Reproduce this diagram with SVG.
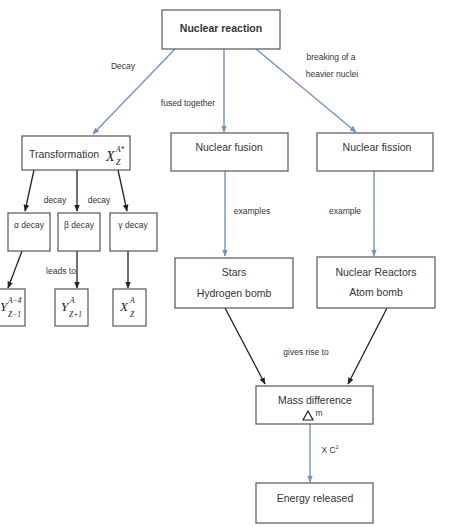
<svg xmlns="http://www.w3.org/2000/svg" width="474" height="527" viewBox="0 0 474 527">
<defs>
<marker id="ab" viewBox="0 0 10 10" refX="9" refY="5" markerWidth="7" markerHeight="7" orient="auto" markerUnits="userSpaceOnUse"><path d="M0,1 L10,5 L0,9 z" fill="#6f93c6"/></marker>
<marker id="ak" viewBox="0 0 10 10" refX="9" refY="5" markerWidth="7" markerHeight="7" orient="auto" markerUnits="userSpaceOnUse"><path d="M0,1 L10,5 L0,9 z" fill="#222"/></marker>
<style>
.box{fill:#fff;stroke:#555;stroke-width:1.2}
.t{font-family:"Liberation Sans",Arial,sans-serif;font-size:10.5px;fill:#333;text-anchor:middle}
.s{font-family:"Liberation Sans",Arial,sans-serif;font-size:8.5px;fill:#333;text-anchor:middle}
.m{font-family:"Liberation Serif","Times New Roman",serif;font-style:italic;fill:#222}
.blue{stroke:#6f93c6;stroke-width:1.4;fill:none;marker-end:url(#ab)}
.blk{stroke:#222;stroke-width:1.3;fill:none;marker-end:url(#ak)}
</style>
</defs>
<rect width="474" height="527" fill="#fff"/>
<g id="connectors">
<line class="blue" x1="175" y1="49" x2="93" y2="134"/>
<line class="blue" x1="224" y1="49" x2="224" y2="132"/>
<line class="blue" x1="256" y1="49" x2="356" y2="132"/>
<line class="blk" x1="34" y1="170" x2="25" y2="211"/>
<line class="blk" x1="77" y1="170" x2="77" y2="211"/>
<line class="blk" x1="118" y1="170" x2="127" y2="211"/>
<line class="blk" x1="22" y1="251" x2="8" y2="288"/>
<line class="blk" x1="77" y1="251" x2="77" y2="288"/>
<line class="blk" x1="128" y1="251" x2="128" y2="288"/>
<line class="blue" x1="225" y1="171" x2="225" y2="256"/>
<line class="blue" x1="374" y1="171" x2="374" y2="256"/>
<line class="blk" x1="225" y1="308" x2="265" y2="384"/>
<line class="blk" x1="387" y1="308" x2="348" y2="384"/>
<line class="blue" x1="310" y1="424" x2="310" y2="482"/>
</g>
<g id="edge-labels">
<text class="s" x="123" y="69">Decay</text>
<text class="s" x="188" y="106">fused together</text>
<text class="s" x="331" y="60">breaking of a</text>
<text class="s" x="332" y="77">heavier nuclei</text>
<text class="s" x="55" y="203" font-size="7">decay</text>
<text class="s" x="99" y="203" font-size="7">decay</text>
<text class="s" x="61" y="274" font-size="7.5">leads to</text>
<text class="s" x="252" y="214">examples</text>
<text class="s" x="345" y="214">example</text>
<text class="s" x="306" y="355">gives rise to</text>
<text class="s" x="330" y="453">X C<tspan font-size="5" dy="-4">2</tspan></text>
</g>
<g id="nuclear-reaction">
<rect class="box" x="162" y="10" width="118" height="39"/>
<text class="t" x="221" y="32" font-weight="bold" font-size="10">Nuclear reaction</text>
</g>
<g id="transformation">
<rect class="box" x="22" y="136" width="108" height="34"/>
<text class="t" x="64" y="158" font-size="10">Transformation</text>
<text class="m" x="106" y="161" font-size="14">X</text>
<text class="m" x="116" y="165" font-size="8">Z</text>
<text class="m" x="116" y="152" font-size="7.5">A*</text>
</g>
<g id="alpha-decay">
<rect class="box" x="8" y="213" width="42" height="38"/>
<text class="s" x="29" y="228">α decay</text>
</g>
<g id="beta-decay">
<rect class="box" x="58" y="213" width="42" height="38"/>
<text class="s" x="79" y="228">β decay</text>
</g>
<g id="gamma-decay">
<rect class="box" x="110" y="213" width="47" height="38"/>
<text class="s" x="133" y="228">γ decay</text>
</g>
<g id="y-alpha">
<rect class="box" x="-2" y="289" width="27" height="37"/>
<text class="m" x="0" y="311" font-size="13">Y</text>
<text class="m" x="8" y="317" font-size="7.5">Z−1</text>
<text class="m" x="8" y="303" font-size="7.5">A−4</text>
</g>
<g id="y-beta">
<rect class="box" x="55" y="289" width="33" height="37"/>
<text class="m" x="61" y="311" font-size="13">Y</text>
<text class="m" x="69" y="317" font-size="7.5">Z+1</text>
<text class="m" x="70" y="303" font-size="7.5">A</text>
</g>
<g id="x-gamma">
<rect class="box" x="113" y="289" width="33" height="37"/>
<text class="m" x="120" y="311" font-size="13">X</text>
<text class="m" x="130" y="317" font-size="7.5">Z</text>
<text class="m" x="130" y="303" font-size="7.5">A</text>
</g>
<g id="nuclear-fusion">
<rect class="box" x="171" y="133" width="117" height="38"/>
<text class="t" x="229" y="151">Nuclear fusion</text>
</g>
<g id="nuclear-fission">
<rect class="box" x="317" y="133" width="116" height="38"/>
<text class="t" x="377" y="151">Nuclear fission</text>
</g>
<g id="stars">
<rect class="box" x="175" y="258" width="118" height="50"/>
<text class="t" x="234" y="276">Stars</text>
<text class="t" x="234" y="297">Hydrogen bomb</text>
</g>
<g id="reactors">
<rect class="box" x="317" y="257" width="118" height="51"/>
<text class="t" x="376" y="276">Nuclear Reactors</text>
<text class="t" x="376" y="296">Atom bomb</text>
</g>
<g id="mass-difference">
<rect class="box" x="256" y="386" width="117" height="38"/>
<text class="t" x="315" y="404">Mass difference</text>
<path d="M303,420 L308,411 L313,420 Z" fill="none" stroke="#222" stroke-width="1.2"/>
<text class="s" x="319" y="416" font-size="7">m</text>
</g>
<g id="energy-released">
<rect class="box" x="256" y="483" width="117" height="40"/>
<text class="t" x="315" y="502">Energy released</text>
</g>
</svg>
